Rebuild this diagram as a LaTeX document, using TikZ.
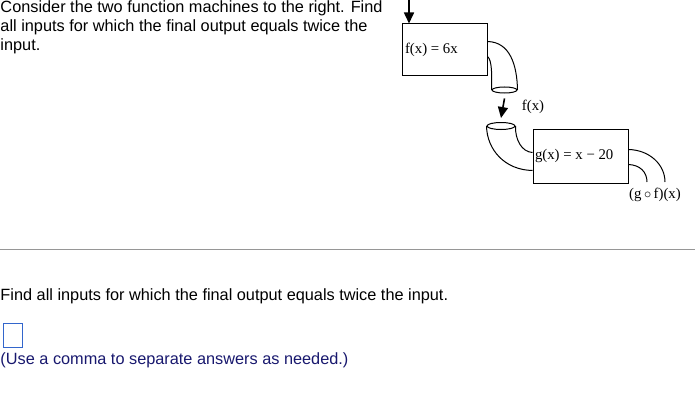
\documentclass[tikz,border=0pt]{standalone}
\usepackage{fontspec}
\setmainfont{Liberation Sans}
\newfontfamily\machfont{Liberation Serif}
\usepackage{xcolor}
\usetikzlibrary{arrows.meta,shapes.geometric}
\definecolor{navytext}{RGB}{24,24,110}
\definecolor{boxblue}{RGB}{51,102,204}
\definecolor{rulegray}{RGB}{150,150,150}

\begin{document}
\begin{tikzpicture}[x=1pt,y=-1pt,line width=1pt,
    machine/.style={draw,rectangle,inner sep=0pt},
    mouth/.style={draw,ellipse,inner sep=0pt},
    mlabel/.style={font=\machfont\fontsize{14.8}{17}\selectfont,inner sep=0pt},
    qtext/.style={font=\fontsize{16.3}{19}\selectfont,inner sep=0pt,align=left},
    feed/.style={-{Triangle[length=11pt,width=10pt]},line width=1.6pt}]
    \useasboundingbox (0,0) rectangle (695,417);
    \node[qtext,anchor=north west] (intro) at (0,0.3) {Consider the two function machines to the right. Find\\all inputs for which the final output equals twice the\\input.};
    \coordinate (start) at (409,0);
    \node[machine,minimum width=85pt,minimum height=52pt] (fbox) at (444.5,50) {};
    \node[mlabel,anchor=west] (frule) at ([xshift=3pt]fbox.west) {f(x) = 6x};
    \node[mouth,minimum width=25pt,minimum height=6pt] (fout) at (504.5,90) {};
    \node[mlabel] (flabel) at (533,107) {f(x)};
    \node[mouth,minimum width=28pt,minimum height=7pt] (gin) at (501,126) {};
    \node[machine,minimum width=95pt,minimum height=54pt] (gbox) at (580.5,156) {};
    \node[mlabel,anchor=west] (grule) at ([xshift=2pt]gbox.west) {g(x) = x − 20};
    \coordinate (gfouter) at (665,182);
    \coordinate (gfinner) at (647,182);
    \node[mlabel] (gflabel) at (655,195) {(g\,$\circ$\,f)(x)};
    \draw[feed] (start) -- (start |- fbox.north);
    \draw ([yshift=-18pt]fbox.north east) .. controls (510,42) and (517,65) .. (fout.east);
    \draw ([yshift=-33pt]fbox.north east) .. controls (492,60) and (492,75) .. (fout.west);
    \draw[feed] ([yshift=-5pt]fout.south) -- ([yshift=4pt]gin.north);
    \draw (gin.west) .. controls (487,150) and (505,170) .. ([yshift=13pt]gbox.south west);
    \draw (gin.east) .. controls (515,140) and (522,152) .. ([yshift=31pt]gbox.south west);
    \draw ([yshift=-21pt]gbox.north east) .. controls (650,150) and (665,165) .. (gfouter);
    \draw ([yshift=-36pt]gbox.north east) .. controls (640,165) and (647,172) .. (gfinner);
    \draw[rulegray] (0,249.5) -- (695,249.5);
    \node[qtext,anchor=base west] (question) at (0,300) {Find all inputs for which the final output equals twice the input.};
    \node[draw=boxblue,minimum width=19pt,minimum height=24pt,inner sep=0pt] (answer) at (12.5,335) {};
    \node[qtext,anchor=base west,text=navytext] (hint) at (0,364) {(Use a comma to separate answers as needed.)};
\end{tikzpicture}
\end{document}
